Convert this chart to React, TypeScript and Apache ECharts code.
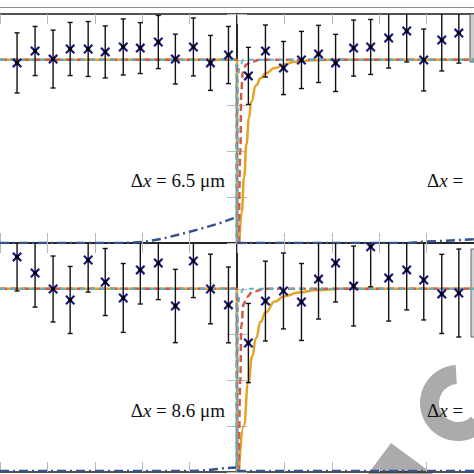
import React, { useEffect, useRef } from "react";
import * as echarts from "echarts";

// ---- measured points (x in µm-like units, y normalised) ----
const xLeftPts = [-23.2, -21.3, -19.4, -17.6, -15.7, -13.9, -12.0, -10.2, -8.3, -6.5, -4.6, -2.8, -0.9];
const xRightPts = [1.2, 3.0, 4.9, 6.8, 8.6, 10.4, 12.3, 14.1, 16.0, 17.9, 19.7, 21.6, 23.4];

const yTopLeft = [0.983, 1.048, 1.004, 1.059, 1.059, 1.043, 1.07, 1.064, 1.097, 1.004, 1.07, 0.983, 1.026];
const eTopLeft = [0.164, 0.134, 0.158, 0.145, 0.15, 0.142, 0.153, 0.139, 0.145, 0.136, 0.158, 0.15, 0.156];
const yTopRight = [0.912, 1.048, 0.955, 0.999, 1.032, 0.983, 1.064, 1.07, 1.119, 1.157, 0.999, 1.108, 1.146];
const eTopRight = [0.156, 0.142, 0.145, 0.156, 0.156, 0.156, 0.153, 0.15, 0.164, 0.169, 0.169, 0.169, 0.164];
const yBotLeft = [1.174, 1.086, 0.999, 0.939, 1.157, 1.037, 0.95, 1.103, 1.141, 0.906, 1.152, 0.999, 0.912];
const eBotLeft = [0.186, 0.186, 0.18, 0.183, 0.175, 0.183, 0.188, 0.186, 0.2, 0.2, 0.2, 0.19, 0.207];
const yBotRight = [0.704, 0.933, 0.988, 0.928, 1.053, 1.141, 1.015, 1.229, 1.059, 1.103, 1.048, 0.972, 0.977];
const eBotRight = [0.216, 0.218, 0.207, 0.21, 0.218, 0.213, 0.218, 0.218, 0.235, 0.218, 0.218, 0.216, 0.24];

// ---- model curves ----
const plateauLeftX = [-25, 0, 0];
const plateauLeftY = [1, 1, 0];
const cyanLeftX = [-25, -0.08, -0.08];
const cyanLeftY = [1, 1, 0];

const orangeTopRightX = [0.25, 0.5, 0.75, 1.0, 1.25, 1.5, 2.0, 2.5, 3.0, 4.0, 5.0, 6.0, 8.0, 10, 25];
const orangeTopRightY = [0, 0.17, 0.36, 0.54, 0.68, 0.77, 0.86, 0.9, 0.925, 0.955, 0.975, 0.988, 0.998, 1, 1];
const orangeBotRightX = [0.2, 0.7, 1.2, 1.6, 2.0, 2.5, 3.0, 4.0, 5.0, 6.5, 8.5, 11, 25];
const orangeBotRightY = [0, 0.25, 0.49, 0.63, 0.73, 0.82, 0.87, 0.93, 0.96, 0.98, 0.993, 1, 1];

const redTopRightX = [0.2, 0.35, 0.45, 0.6, 1.0, 1.5, 2.5, 25];
const redTopRightY = [0, 0.5, 0.82, 0.93, 0.975, 0.99, 1, 1];
const redBotRightX = [0.2, 0.35, 0.45, 0.7, 1.0, 1.7, 3.0, 25];
const redBotRightY = [0, 0.5, 0.8, 0.917, 0.955, 0.985, 1, 1];

const cyanRightX = [0.05, 0.1, 0.3, 0.7, 25];
const cyanRightY = [0, 0.9, 0.97, 1, 1];

const blueTopLeftX = [-25, -12, -10, -8, -6, -4, -2, -0.1];
const blueTopLeftY = [0, 0, 0.005, 0.022, 0.048, 0.075, 0.105, 0.14];
const blueTopRightX = [0, 18, 20, 22, 24, 25];
const blueTopRightY = [0, 0, 0.008, 0.012, 0.018, 0.02];
const blueBotLeftX = [-25, -5, -3, -1.5, -0.1];
const blueBotLeftY = [0.005, 0.005, 0.01, 0.02, 0.025];
const blueBotRightX = [0, 25];
const blueBotRightY = [0.005, 0.005];

const labelTop = "6.5 μm";
const labelBottom = "8.6 μm";

const ORANGE = "#e3a324";
const RED = "#d45a48";
const CYAN = "#55b7cc";
const BLUE = "#35528c";
const NAVY = "#17177e";

const zip = (xs: number[], ys: number[]) => xs.map((x, i) => [x, ys[i]]);
const zip3 = (xs: number[], ys: number[], es: number[]) => xs.map((x, i) => [x, ys[i], es[i]]);

function errRender(params: any, api: any) {
  const x = api.value(0);
  const y = api.value(1);
  const e = api.value(2);
  const t = api.coord([x, y + e]);
  const b = api.coord([x, y - e]);
  const c = api.coord([x, y]);
  const cap = 2.5;
  const s = 4.2;
  const bar = { stroke: "#111", lineWidth: 1.4 };
  const cr = { stroke: NAVY, lineWidth: 2.2 };
  return {
    type: "group",
    children: [
      { type: "line", shape: { x1: t[0], y1: t[1], x2: b[0], y2: b[1] }, style: bar },
      { type: "line", shape: { x1: t[0] - cap, y1: t[1], x2: t[0] + cap, y2: t[1] }, style: bar },
      { type: "line", shape: { x1: b[0] - cap, y1: b[1], x2: b[0] + cap, y2: b[1] }, style: bar },
      { type: "line", shape: { x1: c[0] - s, y1: c[1] - s, x2: c[0] + s, y2: c[1] + s }, style: cr },
      { type: "line", shape: { x1: c[0] - s, y1: c[1] + s, x2: c[0] + s, y2: c[1] - s }, style: cr },
      { type: "circle", shape: { cx: c[0], cy: c[1], r: 2 }, style: { fill: "#000" } },
    ],
  };
}

export default function App() {
  const ref = useRef<HTMLDivElement>(null);
  useEffect(() => {
    if (!ref.current) return;
    const chart = echarts.init(ref.current, null, { renderer: "svg" });

    const axisLine = { show: true, onZero: false, lineStyle: { color: "#1a1a1a", width: 1.5 } };
    const tick = { show: true, inside: true, length: 10, lineStyle: { color: "#b8b8b8", width: 1 } };
    const xAx = (g: number, pos: string, min: number, max: number) => ({
      type: "value", gridIndex: g, position: pos, min, max, interval: 5,
      axisLine, axisTick: tick, axisLabel: { show: false }, splitLine: { show: false },
    });
    const yAx = (g: number, pos: string) => ({
      type: "value", gridIndex: g, position: pos, min: 0, max: 1.25, interval: 0.25,
      axisLine, axisTick: tick, axisLabel: { show: false }, splitLine: { show: false },
    });

    const line = (xi: number, yi: number, data: number[][], color: string, width: number, type: any, z: number, smooth = false) => ({
      type: "line", xAxisIndex: xi, yAxisIndex: yi, data, symbol: "none", showSymbol: false,
      smooth, smoothMonotone: "x", clip: true, silent: true, z,
      lineStyle: { color, width, type },
    });
    const err = (xi: number, yi: number, data: number[][]) => ({
      type: "custom", xAxisIndex: xi, yAxisIndex: yi, data, renderItem: errRender, clip: true, z: 10, silent: true,
    });

    const dashRed = [7, 4];
    const dashCyan = [5, 5];
    const dashDot = [9, 4, 2, 4];

    const series: any[] = [];
    // Top-left
    series.push(line(0, 0, zip(plateauLeftX, plateauLeftY), ORANGE, 2.5, "solid", 3));
    series.push(line(0, 0, zip(plateauLeftX, plateauLeftY), RED, 2.5, dashRed, 4));
    series.push(line(0, 0, zip(cyanLeftX, cyanLeftY), CYAN, 2, dashCyan, 5));
    series.push(line(0, 0, zip(blueTopLeftX, blueTopLeftY), BLUE, 2.5, dashDot, 6));
    series.push(err(0, 0, zip3(xLeftPts, yTopLeft, eTopLeft)));
    // Top-right
    series.push(line(2, 1, zip(orangeTopRightX, orangeTopRightY), ORANGE, 2.5, "solid", 3, true));
    series.push(line(2, 1, zip(redTopRightX, redTopRightY), RED, 2.5, dashRed, 4, true));
    series.push(line(2, 1, zip(cyanRightX, cyanRightY), CYAN, 2, dashCyan, 5, true));
    series.push(line(2, 1, zip(blueTopRightX, blueTopRightY), BLUE, 2.5, dashDot, 6));
    series.push(err(2, 1, zip3(xRightPts, yTopRight, eTopRight)));
    // Bottom-left
    series.push(line(4, 2, zip(plateauLeftX, plateauLeftY), ORANGE, 2.5, "solid", 3));
    series.push(line(4, 2, zip(plateauLeftX, plateauLeftY), RED, 2.5, dashRed, 4));
    series.push(line(4, 2, zip(cyanLeftX, cyanLeftY), CYAN, 2, dashCyan, 5));
    series.push(line(4, 2, zip(blueBotLeftX, blueBotLeftY), BLUE, 2.5, dashDot, 6));
    series.push(err(4, 2, zip3(xLeftPts, yBotLeft, eBotLeft)));
    // Bottom-right
    series.push(line(6, 3, zip(orangeBotRightX, orangeBotRightY), ORANGE, 2.5, "solid", 3, true));
    series.push(line(6, 3, zip(redBotRightX, redBotRightY), RED, 2.5, dashRed, 4, true));
    series.push(line(6, 3, zip(cyanRightX, cyanRightY), CYAN, 2, dashCyan, 5, true));
    series.push(line(6, 3, zip(blueBotRightX, blueBotRightY), BLUE, 2.5, dashDot, 6));
    series.push(err(6, 3, zip3(xRightPts, yBotRight, eBotRight)));

    const rich = {
      n: { font: "19px Liberation Serif", fontFamily: "Liberation Serif", fontSize: 19, fill: "#111" },
      i: { font: "italic 19px Liberation Serif", fontFamily: "Liberation Serif", fontSize: 19, fontStyle: "italic", fill: "#111" },
    };
    const txt = (x: number, y: number, text: string, align: string) => ({
      type: "text", z: 100, x, y,
      style: { text, rich, align, verticalAlign: "middle", font: "19px Liberation Serif", fill: "#111" },
    });
    const WM = "#ababab";

    chart.setOption({
      animation: false,
      backgroundColor: "#fff",
      grid: [
        { left: -13, top: 14, width: 250, height: 229 },
        { left: 237, top: 14, width: 250, height: 229 },
        { left: -13, top: 243, width: 250, height: 229 },
        { left: 237, top: 243, width: 250, height: 229 },
      ],
      xAxis: [
        xAx(0, "bottom", -25, 0), xAx(0, "top", -25, 0),
        xAx(1, "bottom", 0, 25), xAx(1, "top", 0, 25),
        xAx(2, "bottom", -25, 0), xAx(2, "top", -25, 0),
        xAx(3, "bottom", 0, 25), xAx(3, "top", 0, 25),
      ],
      yAxis: [yAx(0, "right"), yAx(1, "left"), yAx(2, "right"), yAx(3, "left")],
      series,
      graphic: [
        { type: "line", z: 1, shape: { x1: 0, y1: 7.5, x2: 474, y2: 7.5 }, style: { stroke: "#8a8a8a", lineWidth: 1 } },
        {
          type: "sector", z: 0,
          shape: { cx: 458, cy: 403, r0: 19, r: 38, startAngle: 0.8, endAngle: 4.65, clockwise: true },
          style: { fill: WM },
        },
        { type: "polygon", z: 0, shape: { points: [[368, 474], [391, 443], [433, 474]] }, style: { fill: WM } },
        { type: "rect", z: 1, shape: { x: 470, y: 14, width: 5, height: 48 }, style: { fill: "#cdcdcd", stroke: "#555", lineWidth: 1 } },
        { type: "rect", z: 1, shape: { x: 471, y: 249, width: 4, height: 88 }, style: { fill: "#d2d2d2", stroke: "#666", lineWidth: 1 } },
        txt(225, 180, "{n|Δ}{i|x}{n| = " + labelTop + "}", "right"),
        txt(225, 410, "{n|Δ}{i|x}{n| = " + labelBottom + "}", "right"),
        txt(427, 180, "{n|Δ}{i|x}{n| =}", "left"),
        txt(427, 410, "{n|Δ}{i|x}{n| =}", "left"),
      ],
    });
    return () => chart.dispose();
  }, []);
  return <div ref={ref} style={{ position: "fixed", left: 0, top: 0, width: 474, height: 474 }} />;
}
